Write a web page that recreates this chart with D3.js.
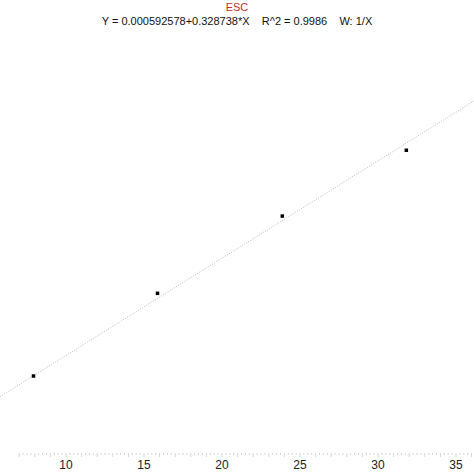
<!DOCTYPE html><html><head><script src="https://cdn.jsdelivr.net/npm/d3@7"></script>
<style>body{margin:0;background:#fff} text{white-space:pre}</style></head><body><svg id="c" width="474" height="474"></svg><script>
const xVals=[7.9,15.85,23.85,31.8];
const yVals=[2.63,5.52,8.22,10.52];
const xTicks=[10,15,20,25,30,35];
const fitA=0.000592578, fitB=0.328738;
const svg=d3.select("#c");
const x=d3.scaleLinear().domain([10,35]).range([66,456]);
const y=d3.scaleLinear().domain([0,10.52]).range([451,150]);
svg.append("text").attr("x",237).attr("y",11).attr("text-anchor","middle").attr("fill","#c0302a").attr("font-family","Liberation Sans").attr("font-size",11).text("ESC");
svg.append("text").attr("x",237).attr("y",25).attr("text-anchor","middle").attr("fill","#111").attr("font-family","Liberation Sans").attr("font-size",11).text("Y = 0.000592578+0.328738*X    R^2 = 0.9986    W: 1/X");
const x0=x.invert(0),x1=x.invert(474);
svg.append("line").attr("x1",0).attr("x2",474).attr("y1",y(fitA+fitB*x0)).attr("y2",y(fitA+fitB*x1)-10)
 .attr("stroke","#999").attr("stroke-width",0.7).attr("stroke-dasharray","1,1.5");
svg.selectAll("rect.p").data(xVals).enter().append("rect").attr("x",(d)=>x(d)-1.5).attr("y",(d,i)=>y(yVals[i])-1.5).attr("width",3.5).attr("height",3.5).attr("fill","#000");
const minor=d3.range(7,37,0.25);
svg.selectAll("line.m").data(minor).enter().append("line").attr("x1",d=>x(d)).attr("x2",d=>x(d)).attr("y1",453).attr("y2",d=>d%1===0?457:455).attr("stroke","#bbb").attr("stroke-width",0.6);
svg.selectAll("text.t").data(xTicks).enter().append("text").attr("x",d=>x(d)).attr("y",469).attr("text-anchor","middle").attr("font-family","Liberation Sans").attr("font-size",12).attr("fill","#222").text(d=>d);
</script></body></html>
